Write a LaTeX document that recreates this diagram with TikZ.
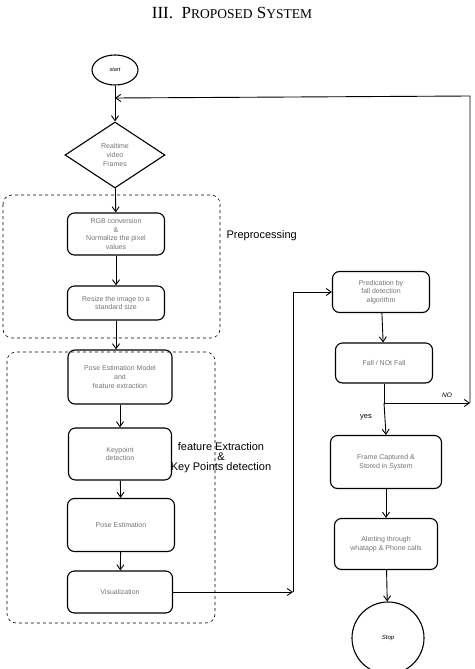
\documentclass[tikz,border=0pt]{standalone}
\usepackage{fontspec}
\setmainfont{Liberation Serif}
\setsansfont{Liberation Sans}
\usetikzlibrary{arrows.meta,shapes.geometric}

\begin{document}
\begin{tikzpicture}[x=1pt,y=-1pt,
		box/.style={draw, line width=1.1pt, rounded corners=7pt, align=center, inner sep=2pt,
			font=\sffamily\fontsize{7}{8.6}\selectfont, text=black!55},
		group/.style={draw, dashed, line width=0.6pt, rounded corners=9pt},
		arr/.style={-{Straight Barb[length=5pt,width=7pt]}, line width=0.9pt},
		lbl/.style={font=\sffamily\fontsize{11}{10}\selectfont, align=center}]
			%%%%% START %%%%%
			
			\useasboundingbox (0, 0) rectangle (474, 669);
			
			\node[font=\fontsize{17}{20}\selectfont] (title) at (232, 13) {III.\ \ P{\fontsize{13.5}{16}\selectfont ROPOSED} S{\fontsize{13.5}{16}\selectfont YSTEM}};
			
			% dashed groups
			\draw[group] (3, 195) rectangle (220, 338);
			\draw[group] (7, 352) rectangle (215, 623);
			\node[lbl, anchor=west] (prelbl) at (223, 236) {Preprocessing};
			\node[lbl] (featlbl) at (221, 458) {feature Extraction\\\&\\Key Points detection};
			
			% left column
			\node[draw, ellipse, line width=1.1pt, minimum width=46pt, minimum height=30pt, font=\sffamily\itshape\fontsize{5.5}{6}\selectfont] (start) at (115, 70) {start};
			\node[draw, diamond, line width=1.1pt, minimum width=100pt, minimum height=66pt, align=center,
				font=\sffamily\fontsize{7}{8.6}\selectfont, text=black!55] (frames) at (115, 155) {Realtime\\video\\Frames};
			\node[box, minimum width=97pt, minimum height=42pt] (rgb) at (116, 234) {RGB conversion\\\&\\Normalize the pixel\\values};
			\node[box, minimum width=97pt, minimum height=34pt] (resize) at (116, 303) {Resize the image to a\\standard size};
			\node[box, minimum width=104pt, minimum height=54pt] (posemodel) at (120, 377) {Pose Estimation Model\\and\\feature extraction};
			\node[box, minimum width=103pt, minimum height=52pt] (keypoint) at (120, 454) {Keypoint\\detection};
			\node[box, minimum width=107pt, minimum height=53pt] (poseest) at (121, 525) {Pose Estimation};
			\node[box, minimum width=105pt, minimum height=42pt] (visual) at (120, 592) {Visualization};
			
			% right column
			\node[box, minimum width=97pt, minimum height=41pt] (predict) at (381, 292) {Predication by\\fall detection\\algorithm};
			\node[box, minimum width=97pt, minimum height=40pt] (fall) at (384, 363) {Fall / NOt Fall};
			\node[box, minimum width=111pt, minimum height=53pt] (frame) at (386, 462) {Frame Captured \&\\Stored in System};
			\node[box, minimum width=103pt, minimum height=51pt] (alert) at (386, 544) {Alerting through\\whatapp \& Phone calls};
			\node[draw, circle, line width=1.1pt, minimum size=72pt, font=\sffamily\itshape\fontsize{6}{7}\selectfont] (stop) at (388, 638) {Stop};
			
			% helper points
			\coordinate (join) at (115, 98);
			\coordinate (vcorner) at (293, 592);
			\coordinate (split) at (384, 403);
			\coordinate (noend) at (470, 403);
			\coordinate (ret) at (470, 96);
			
			% connectors
			\draw[arr] (start) -- (frames);
			\draw[arr] (frames) -- (rgb);
			\draw[arr] (rgb) -- (resize);
			\draw[arr] (resize.south) -- (posemodel.north -| resize.south);
			\draw[arr] (posemodel) -- (keypoint);
			\draw[arr] (keypoint) -- (poseest);
			\draw[arr] (poseest) -- (visual);
			\draw[arr] (visual.east) -- (vcorner);
			\draw[arr] (vcorner) |- (predict.west);
			\draw[arr] (predict) -- (fall);
			\draw[line width=0.9pt] (fall.south) -- (split);
			\draw[arr] (split) -- (frame.north);
			\draw[arr] (split) -- (noend);
			\draw[arr] (noend) -- (ret) -- (join);
			\draw[arr] (frame) -- (alert);
			\draw[arr] (alert) -- (stop);
			
			\node[font=\sffamily\itshape\fontsize{6.5}{7}\selectfont] (nolbl) at (447, 395) {NO};
			\node[font=\sffamily\fontsize{7.5}{8}\selectfont] (yeslbl) at (366, 417) {yes};
			
			%%%%% END %%%%%
		\end{tikzpicture}
\end{document}
